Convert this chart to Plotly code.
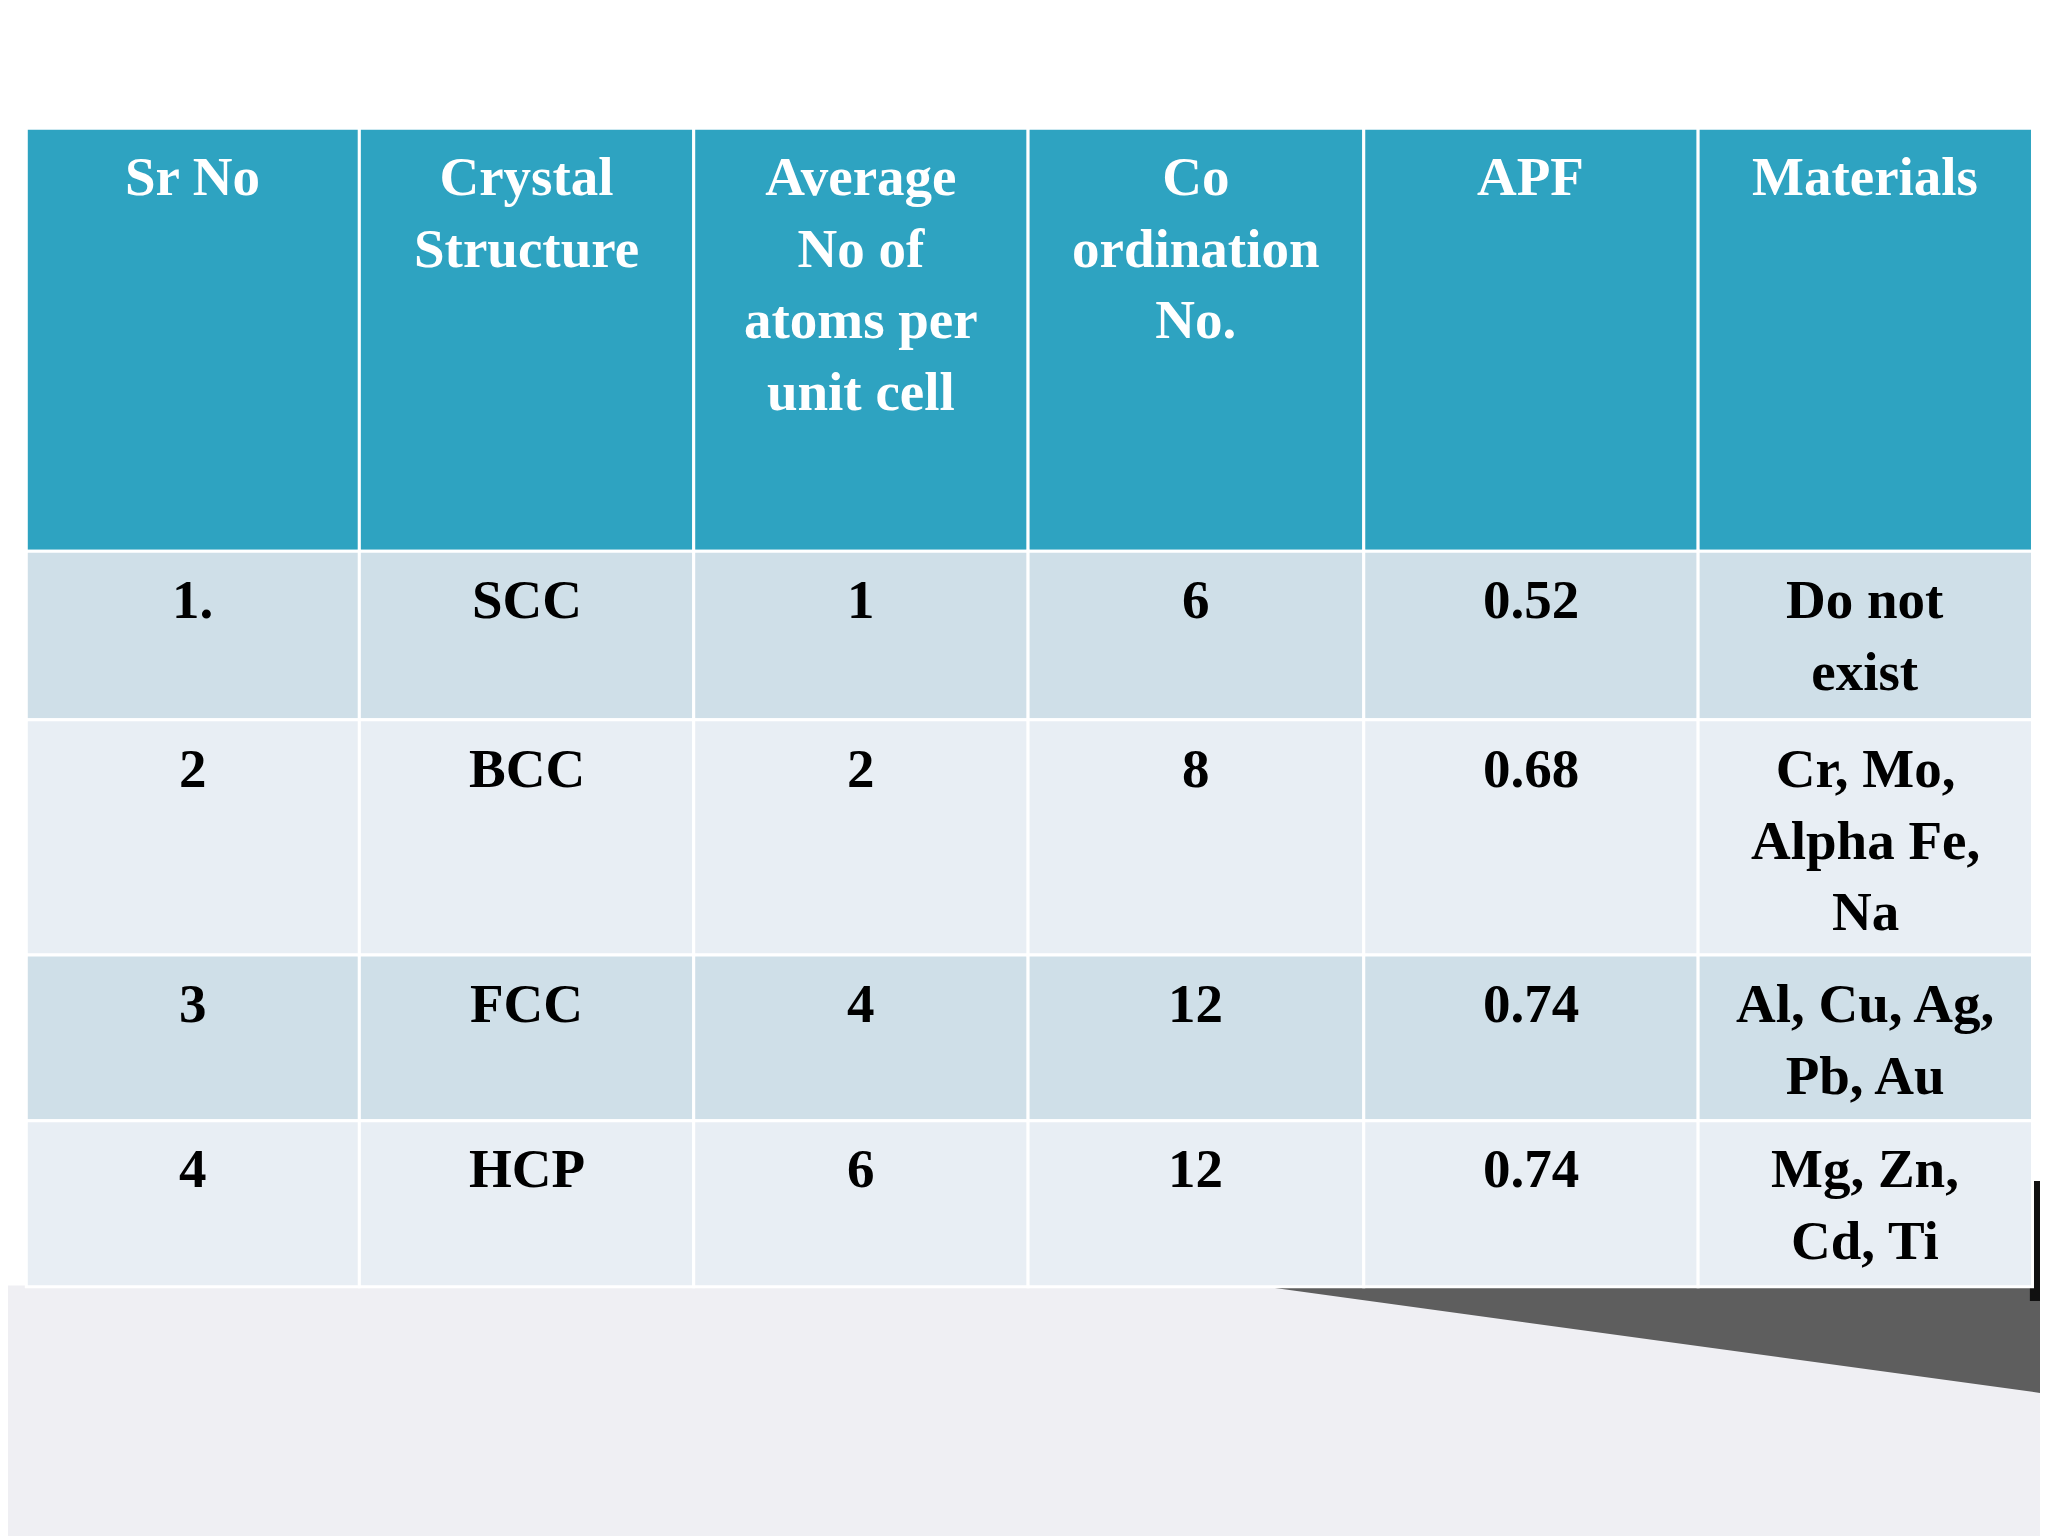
import plotly.graph_objects as go

headers = ["Sr No", "Crystal<br>Structure", "Average<br>No of<br>atoms per<br>unit cell",
           "Co<br>ordination<br>No.", "APF", "Materials"]
sr_no = ["1.", "2", "3", "4"]
structure = ["SCC", "BCC", "FCC", "HCP"]
atoms = ["1", "2", "4", "6"]
coord = ["6", "8", "12", "12"]
apf = ["0.52", "0.68", "0.74", "0.74"]
materials = ["Do not<br>exist", "Cr, Mo,<br>Alpha Fe,<br>Na", "Al, Cu, Ag,<br>Pb, Au", "Mg, Zn,<br>Cd, Ti"]

columns = [sr_no, structure, atoms, coord, apf, materials]
row_fills = ["#cfdfe8", "#e8eef4", "#cfdfe8", "#e8eef4"]
FONT = "Liberation Serif"
W, H = 1568.0, 1176.0  # layout reference units

col_edges = [14, 269, 525, 781, 1038, 1294, 1550]
row_edges = [92, 416, 545, 725, 852, 979]  # header, then 4 rows

def px(x): return x / W
def py(y): return 1 - y / H

fig = go.Figure()

# background decoration
fig.add_shape(type="rect", xref="paper", yref="paper", layer="below",
              x0=0, x1=1, y0=0, y1=py(978), fillcolor="#efeff3", line=dict(width=0))
fig.add_shape(type="path", xref="paper", yref="paper", layer="below",
              path=f"M {px(970)},{py(980)} L 1,{py(980)} L 1,{py(1062)} Z",
              fillcolor="#5e5e5e", line=dict(width=0))
fig.add_shape(type="rect", xref="paper", yref="paper", layer="below",
              x0=px(1548), x1=1, y0=py(990), y1=py(898), fillcolor="#111111", line=dict(width=0))

def cell(c, r, fill, text, color):
    x0, x1 = col_edges[c], col_edges[c + 1]
    y0, y1 = row_edges[r], row_edges[r + 1]
    fig.add_shape(type="rect", xref="paper", yref="paper",
                  x0=px(x0), x1=px(x1), y0=py(y1), y1=py(y0),
                  fillcolor=fill, line=dict(color="white", width=3))
    fig.add_annotation(xref="paper", yref="paper", x=px((x0 + x1) / 2), y=py(y0 + 12),
                       xanchor="center", yanchor="top", align="center", showarrow=False,
                       text=f"<b>{text}</b>",
                       font=dict(family=FONT, size=55, color=color))

for c, h in enumerate(headers):
    cell(c, 0, "#2ea3c1", h, "white")
for c, col in enumerate(columns):
    for r, v in enumerate(col):
        cell(c, r + 1, row_fills[r], v, "black")

fig.update_xaxes(visible=False)
fig.update_yaxes(visible=False)
fig.update_layout(width=2048, height=1536, margin=dict(l=0, r=0, t=0, b=0),
                  paper_bgcolor="white", plot_bgcolor="white")
fig.write_html("out.html")
